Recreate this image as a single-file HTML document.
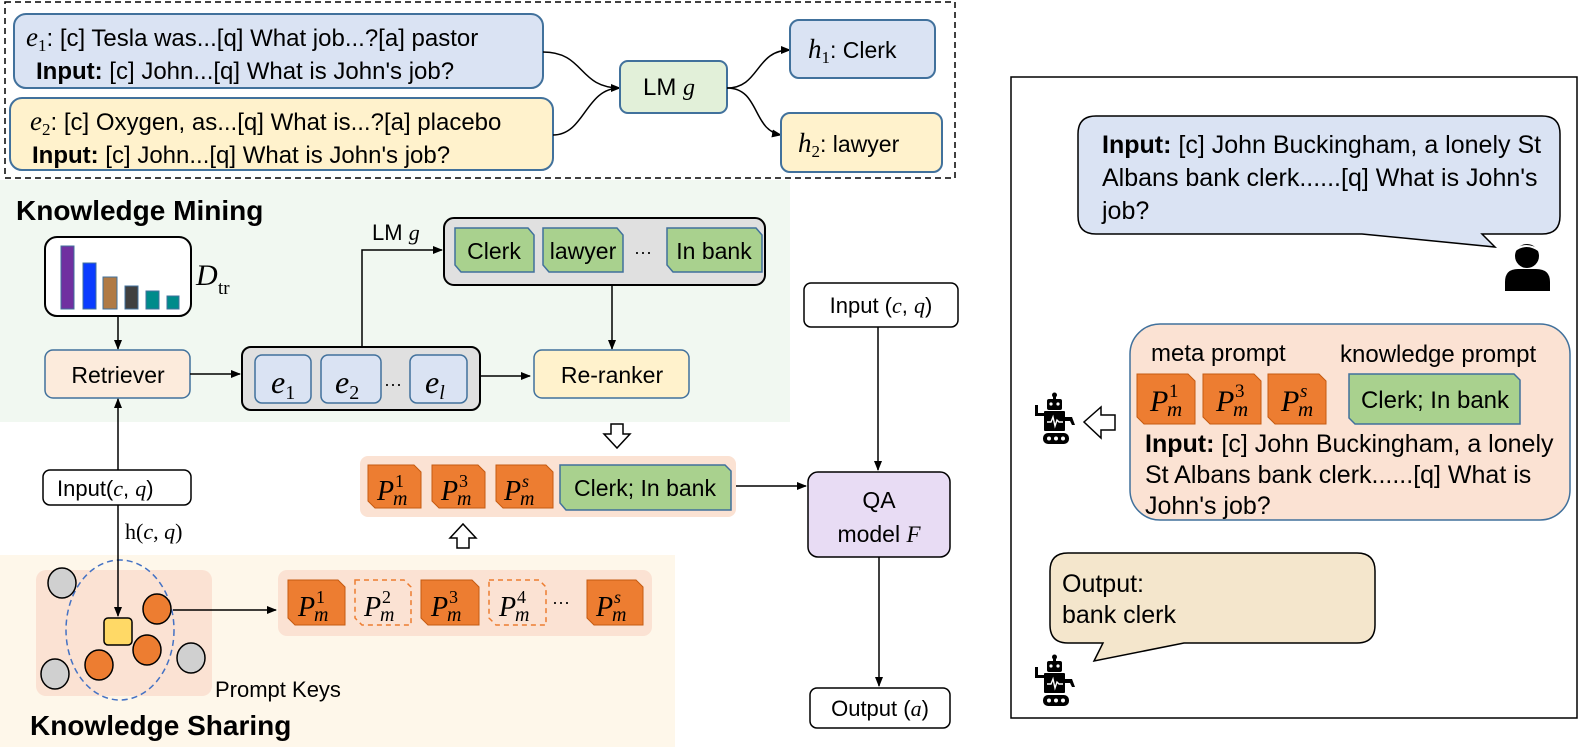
<!DOCTYPE html>
<html><head><meta charset="utf-8"><style>
html,body{margin:0;padding:0;background:#fff;}
svg{display:block;font-family:"Liberation Sans",sans-serif;}
.m{font-family:"Liberation Serif",serif;font-style:italic;}
.r{font-family:"Liberation Serif",serif;}
</style></head><body>
<svg width="1578" height="755" viewBox="0 0 1578 755" xmlns="http://www.w3.org/2000/svg">
<defs>
<marker id="ah" markerWidth="10" markerHeight="10" refX="9" refY="5" orient="auto" markerUnits="userSpaceOnUse"><path d="M0,1 L10,5 L0,9 Z" fill="#000"/></marker>
<g id="rb" fill="#000">
<rect x="12" y="0" width="3" height="6"/>
<circle cx="13.5" cy="2" r="2.5"/>
<rect x="6" y="6" width="15" height="11" rx="2"/>
<rect x="3" y="18" width="21" height="20" rx="1"/>
<rect x="2" y="40" width="26" height="11" rx="5"/>
<rect x="-6" y="20" width="9" height="3"/>
<rect x="-6" y="12" width="3" height="10"/>
<path d="M24,24 L31,24 L34,32 L31,32 L29,28 L24,28 Z"/>
<circle cx="10" cy="11" r="1.6" fill="#fff"/><circle cx="17" cy="11" r="1.6" fill="#fff"/>
<polyline points="6,29 10,29 12,24 14,33 16,27 18,29 22,29" fill="none" stroke="#fff" stroke-width="1.4"/>
<circle cx="8" cy="45.5" r="2" fill="#fff"/><circle cx="15" cy="45.5" r="2" fill="#fff"/><circle cx="22" cy="45.5" r="2" fill="#fff"/>
</g>
</defs>
<!-- backgrounds -->
<rect x="0" y="180" width="790" height="242" fill="#f1f8f1"/>
<rect x="0" y="555" width="675" height="192" fill="#fef7ea"/>
<!-- dashed top box -->
<rect x="5" y="2" width="950" height="176" fill="none" stroke="#000" stroke-width="1.5" stroke-dasharray="6,4"/>
<rect x="14" y="14" width="529" height="74" rx="12" fill="#dae3f3" stroke="#41719c" stroke-width="2"/>
<text x="26" y="46" font-size="24"><tspan class="m" font-size="27">e</tspan><tspan class="r" font-size="17" dy="5">1</tspan><tspan dy="-5">: [c] Tesla was...[q] What job...?[a] pastor</tspan></text>
<text x="36" y="79" font-size="24"><tspan font-weight="bold">Input:</tspan> [c] John...[q] What is John's job?</text>
<rect x="10" y="98" width="543" height="72" rx="12" fill="#fff2cc" stroke="#41719c" stroke-width="2"/>
<text x="30" y="130" font-size="24"><tspan class="m" font-size="27">e</tspan><tspan class="r" font-size="17" dy="5">2</tspan><tspan dy="-5">: [c] Oxygen, as...[q] What is...?[a] placebo</tspan></text>
<text x="32" y="163" font-size="24"><tspan font-weight="bold">Input:</tspan> [c] John...[q] What is John's job?</text>
<path d="M543,52 C585,52 578,88 620,88" fill="none" stroke="#000" stroke-width="1.5" marker-end="url(#ah)"/>
<path d="M553,135 C585,135 585,88 620,88" fill="none" stroke="#000" stroke-width="1.5"/>
<rect x="620" y="61" width="107" height="52" rx="8" fill="#e2f0d9" stroke="#41719c" stroke-width="2"/>
<text x="643" y="95" font-size="24">LM <tspan class="m">g</tspan></text>
<path d="M727,88 C760,88 755,50 790,50" fill="none" stroke="#000" stroke-width="1.5" marker-end="url(#ah)"/>
<path d="M727,88 C760,88 752,130 781,135" fill="none" stroke="#000" stroke-width="1.5" marker-end="url(#ah)"/>
<rect x="790" y="20" width="145" height="58" rx="9" fill="#dae3f3" stroke="#41719c" stroke-width="2"/>
<text x="808" y="58" font-size="23"><tspan class="m" font-size="27">h</tspan><tspan class="r" font-size="17" dy="5">1</tspan><tspan dy="-5">: Clerk</tspan></text>
<rect x="781" y="113" width="161" height="59" rx="9" fill="#fff2cc" stroke="#41719c" stroke-width="2"/>
<text x="798" y="152" font-size="23"><tspan class="m" font-size="27">h</tspan><tspan class="r" font-size="17" dy="5">2</tspan><tspan dy="-5">: lawyer</tspan></text>

<!-- Knowledge Mining -->
<text x="16" y="220" font-size="28" font-weight="bold">Knowledge Mining</text>
<rect x="45" y="237" width="146" height="79" rx="12" fill="#fff" stroke="#000" stroke-width="2"/>
<g stroke="#41719c" stroke-width="1">
<rect x="61" y="246" width="13" height="63" fill="#7030a0"/>
<rect x="83" y="263" width="13" height="46" fill="#0a3cff"/>
<rect x="103" y="277" width="14" height="32" fill="#b07a45"/>
<rect x="125" y="286" width="13" height="23" fill="#404040"/>
<rect x="146" y="291" width="13" height="18" fill="#008b8b"/>
<rect x="167" y="296" width="12" height="13" fill="#008b8b"/>
</g>
<text x="196" y="285" font-size="30" class="m">D</text><text x="218" y="294" font-size="19" class="r">tr</text>
<line x1="118" y1="316" x2="118" y2="349" stroke="#000" stroke-width="1.5" marker-end="url(#ah)"/>
<rect x="45" y="350" width="145" height="48" rx="8" fill="#fcebdc" stroke="#41719c" stroke-width="1.5"/>
<text x="118" y="383" font-size="23" text-anchor="middle">Retriever</text>
<line x1="190" y1="374" x2="240" y2="374" stroke="#000" stroke-width="1.5" marker-end="url(#ah)"/>
<rect x="242" y="347" width="238" height="63" rx="9" fill="#e0e0e0" stroke="#000" stroke-width="2"/>
<rect x="255" y="355" width="56" height="48" rx="7" fill="#dae3f3" stroke="#41719c" stroke-width="1.5"/>
<rect x="321" y="355" width="60" height="48" rx="7" fill="#dae3f3" stroke="#41719c" stroke-width="1.5"/>
<rect x="410" y="355" width="57" height="48" rx="7" fill="#dae3f3" stroke="#41719c" stroke-width="1.5"/>
<text x="271" y="393" font-size="32"><tspan class="m">e</tspan><tspan class="r" font-size="20" dy="6">1</tspan></text>
<text x="335" y="393" font-size="32"><tspan class="m">e</tspan><tspan class="r" font-size="20" dy="6">2</tspan></text>
<text x="384" y="390" font-size="18">···</text>
<text x="425" y="393" font-size="32"><tspan class="m">e</tspan><tspan class="m" font-size="20" dy="6">l</tspan></text>
<line x1="480" y1="376" x2="530" y2="376" stroke="#000" stroke-width="1.5" marker-end="url(#ah)"/>
<polyline points="362,347 362,250 442,250" fill="none" stroke="#000" stroke-width="1.5" marker-end="url(#ah)"/>
<text x="372" y="240" font-size="22">LM <tspan class="m">g</tspan></text>
<rect x="444" y="218" width="321" height="67" rx="10" fill="#e0e0e0" stroke="#000" stroke-width="2"/>
<g fill="#a9d18e" stroke="#41719c" stroke-width="1.5">
<path d="M455,228 L528,228 L534,235 L534,272 L461,272 L455,265 Z"/>
<path d="M543,228 L617,228 L623,235 L623,272 L549,272 L543,265 Z"/>
<path d="M667,228 L756,228 L762,235 L762,272 L673,272 L667,265 Z"/>
</g>
<text x="494" y="259" font-size="23" text-anchor="middle">Clerk</text>
<text x="583" y="259" font-size="23" text-anchor="middle">lawyer</text>
<text x="634" y="258" font-size="18">···</text>
<text x="714" y="259" font-size="23" text-anchor="middle">In bank</text>
<line x1="612" y1="285" x2="612" y2="349" stroke="#000" stroke-width="1.5" marker-end="url(#ah)"/>
<rect x="534" y="350" width="155" height="48" rx="8" fill="#fff2cc" stroke="#41719c" stroke-width="1.5"/>
<text x="612" y="383" font-size="23" text-anchor="middle">Re-ranker</text>

<!-- hollow arrows -->
<path d="M611,424 L623,424 L623,434 L630,434 L617,448 L604,434 L611,434 Z" fill="#fff" stroke="#000" stroke-width="1.5"/>
<path d="M457,548 L469,548 L469,538 L476,538 L463,524 L450,538 L457,538 Z" fill="#fff" stroke="#000" stroke-width="1.5"/>

<!-- left input -->
<line x1="118" y1="470" x2="118" y2="399" stroke="#000" stroke-width="1.5" marker-end="url(#ah)"/>
<rect x="43" y="470" width="148" height="35" rx="7" fill="#fff" stroke="#000" stroke-width="1.5"/>
<text x="57" y="496" font-size="22">Input(<tspan class="m">c</tspan>, <tspan class="m">q</tspan>)</text>
<text x="125" y="539" font-size="22" class="r">h(<tspan class="m">c</tspan>, <tspan class="m">q</tspan>)</text>

<!-- prompt row top -->
<rect x="360" y="456" width="376" height="61" rx="8" fill="#fbe2d3"/>
<g fill="#ed7d31" stroke="#c55a11" stroke-width="1">
<path d="M368,465 L414,465 L421,472 L421,508 L375,508 L368,501 Z"/>
<path d="M432,465 L478,465 L485,472 L485,508 L439,508 L432,501 Z"/>
<path d="M496,465 L546,465 L553,472 L553,508 L503,508 L496,501 Z"/>
</g>
<path d="M560,465 L725,465 L731,471 L731,510 L566,510 L560,503 Z" fill="#a9d18e" stroke="#41719c" stroke-width="1.5"/>
<text x="645" y="496" font-size="23" text-anchor="middle">Clerk; In bank</text>
<g font-size="28">
<text x="377" y="500" class="m">P</text><text x="395" y="487" class="r" font-size="18">1</text><text x="393" y="505" class="m" font-size="20">m</text>
<text x="441" y="500" class="m">P</text><text x="459" y="487" class="r" font-size="18">3</text><text x="457" y="505" class="m" font-size="20">m</text>
<text x="504" y="500" class="m">P</text><text x="522" y="487" class="m" font-size="18">s</text><text x="520" y="505" class="m" font-size="20">m</text>
</g>
<line x1="736" y1="486" x2="806" y2="486" stroke="#000" stroke-width="1.5" marker-end="url(#ah)"/>

<!-- knowledge sharing -->
<rect x="36" y="570" width="176" height="126" rx="10" fill="#fbe2d3"/>
<ellipse cx="120" cy="630" rx="54" ry="70" fill="none" stroke="#4472c4" stroke-width="1.5" stroke-dasharray="6,4"/>
<g stroke="#000" stroke-width="1.5">
<ellipse cx="62" cy="583" rx="14" ry="15" fill="#d0d0d0"/>
<ellipse cx="157" cy="609" rx="14" ry="15" fill="#ed7d31"/>
<ellipse cx="55" cy="674" rx="14" ry="15" fill="#d0d0d0"/>
<ellipse cx="99" cy="665" rx="14" ry="15" fill="#ed7d31"/>
<ellipse cx="147" cy="650" rx="14" ry="15" fill="#ed7d31"/>
<ellipse cx="191" cy="658" rx="14" ry="15" fill="#d0d0d0"/>
<rect x="104" y="618" width="28" height="27" rx="4" fill="#ffd966"/>
</g>
<line x1="118" y1="505" x2="118" y2="616" stroke="#000" stroke-width="1.5" marker-end="url(#ah)"/>
<line x1="173" y1="610" x2="276" y2="610" stroke="#000" stroke-width="1.5" marker-end="url(#ah)"/>
<text x="215" y="697" font-size="22">Prompt Keys</text>
<text x="30" y="735" font-size="28" font-weight="bold">Knowledge Sharing</text>
<rect x="278" y="570" width="374" height="66" rx="9" fill="#fbe2d3"/>
<g fill="#ed7d31" stroke="#c55a11" stroke-width="1">
<path d="M288,580 L338,580 L345,587 L345,625 L295,625 L288,618 Z"/>
<path d="M421,580 L472,580 L479,587 L479,625 L428,625 L421,618 Z"/>
<path d="M587,580 L636,580 L643,587 L643,625 L594,625 L587,618 Z"/>
</g>
<g fill="none" stroke="#ed7d31" stroke-width="1.5" stroke-dasharray="5,4">
<path d="M355,580 L404,580 L411,587 L411,625 L362,625 L355,618 Z"/>
<path d="M489,580 L539,580 L546,587 L546,625 L496,625 L489,618 Z"/>
</g>
<g font-size="28">
<text x="298" y="616" class="m">P</text><text x="316" y="603" class="r" font-size="18">1</text><text x="314" y="621" class="m" font-size="20">m</text>
<text x="364" y="616" class="m">P</text><text x="382" y="603" class="r" font-size="18">2</text><text x="380" y="621" class="m" font-size="20">m</text>
<text x="431" y="616" class="m">P</text><text x="449" y="603" class="r" font-size="18">3</text><text x="447" y="621" class="m" font-size="20">m</text>
<text x="499" y="616" class="m">P</text><text x="517" y="603" class="r" font-size="18">4</text><text x="515" y="621" class="m" font-size="20">m</text>
<text x="596" y="616" class="m">P</text><text x="614" y="603" class="m" font-size="18">s</text><text x="612" y="621" class="m" font-size="20">m</text>
</g>
<text x="552" y="608" font-size="18">···</text>

<!-- QA column -->
<rect x="804" y="283" width="154" height="44" rx="7" fill="#fff" stroke="#000" stroke-width="1.5"/>
<text x="881" y="313" font-size="22" text-anchor="middle">Input (<tspan class="m">c</tspan>, <tspan class="m">q</tspan>)</text>
<line x1="878" y1="327" x2="878" y2="470" stroke="#000" stroke-width="1.5" marker-end="url(#ah)"/>
<rect x="808" y="472" width="142" height="85" rx="10" fill="#e8dcf4" stroke="#000" stroke-width="1.5"/>
<text x="879" y="508" font-size="23" text-anchor="middle">QA</text>
<text x="879" y="542" font-size="23" text-anchor="middle">model <tspan class="m">F</tspan></text>
<line x1="879" y1="557" x2="879" y2="686" stroke="#000" stroke-width="1.5" marker-end="url(#ah)"/>
<rect x="810" y="688" width="140" height="40" rx="7" fill="#fff" stroke="#000" stroke-width="1.5"/>
<text x="880" y="716" font-size="22" text-anchor="middle">Output (<tspan class="m">a</tspan>)</text>

<!-- right panel -->
<rect x="1011" y="77" width="566" height="641" fill="#fff" stroke="#000" stroke-width="1.5"/>
<path d="M1096,116 L1542,116 Q1560,116 1560,134 L1560,216 Q1560,234 1542,234 L1482,234 L1495,247 L1362,234 L1096,234 Q1078,234 1078,216 L1078,134 Q1078,116 1096,116 Z" fill="#dae3f3" stroke="#000" stroke-width="1.5"/>
<text x="1102" y="153" font-size="25"><tspan font-weight="bold">Input:</tspan> [c] John Buckingham, a lonely St</text>
<text x="1102" y="186" font-size="25">Albans bank clerk......[q] What is John's</text>
<text x="1102" y="219" font-size="25">job?</text>
<!-- person -->
<circle cx="1527" cy="256" r="12" fill="#000"/>
<path d="M1514,251 Q1526,241 1540,251" fill="none" stroke="#fff" stroke-width="2"/>
<path d="M1505,291 L1505,282 Q1505,269 1518,269 L1536,269 Q1550,269 1550,282 L1550,291 Z" fill="#000"/>
<!-- bubble 2 -->
<rect x="1130" y="324" width="440" height="196" rx="30" fill="#fbe2d3" stroke="#41719c" stroke-width="1.5"/>
<text x="1151" y="361" font-size="24">meta prompt</text>
<text x="1340" y="362" font-size="24">knowledge prompt</text>
<g fill="#ed7d31" stroke="#c55a11" stroke-width="1">
<path d="M1137,374 L1188,374 L1195,381 L1195,424 L1144,424 L1137,417 Z"/>
<path d="M1203,374 L1254,374 L1261,381 L1261,424 L1210,424 L1203,417 Z"/>
<path d="M1268,374 L1319,374 L1326,381 L1326,424 L1275,424 L1268,417 Z"/>
</g>
<g font-size="30">
<text x="1150" y="411" class="m">P</text><text x="1169" y="397" class="r" font-size="19">1</text><text x="1167" y="416" class="m" font-size="21">m</text>
<text x="1216" y="411" class="m">P</text><text x="1235" y="397" class="r" font-size="19">3</text><text x="1233" y="416" class="m" font-size="21">m</text>
<text x="1281" y="411" class="m">P</text><text x="1300" y="397" class="m" font-size="19">s</text><text x="1298" y="416" class="m" font-size="21">m</text>
</g>
<path d="M1349,374 L1514,374 L1520,380 L1520,424 L1355,424 L1349,418 Z" fill="#a9d18e" stroke="#41719c" stroke-width="1.5"/>
<text x="1435" y="408" font-size="24" text-anchor="middle">Clerk; In bank</text>
<text x="1145" y="452" font-size="25"><tspan font-weight="bold">Input:</tspan> [c] John Buckingham, a lonely</text>
<text x="1145" y="483" font-size="25">St Albans bank clerk......[q] What is</text>
<text x="1145" y="514" font-size="25">John's job?</text>
<!-- hollow left arrow -->
<path d="M1115,415 L1115,430 L1101,430 L1101,438 L1084,422 L1101,407 L1101,415 Z" fill="#fff" stroke="#000" stroke-width="1.5"/>
<!-- robots -->
<use href="#rb" x="1041" y="393"/>
<use href="#rb" x="1041" y="655"/>
<!-- output bubble -->
<path d="M1068,553 L1357,553 Q1375,553 1375,571 L1375,625 Q1375,643 1357,643 L1184,643 L1094,661 L1103,643 L1068,643 Q1050,643 1050,625 L1050,571 Q1050,553 1068,553 Z" fill="#f4e6cc" stroke="#000" stroke-width="1.5"/>
<text x="1062" y="592" font-size="25">Output:</text>
<text x="1062" y="623" font-size="25">bank clerk</text>
</svg>
</body></html>
